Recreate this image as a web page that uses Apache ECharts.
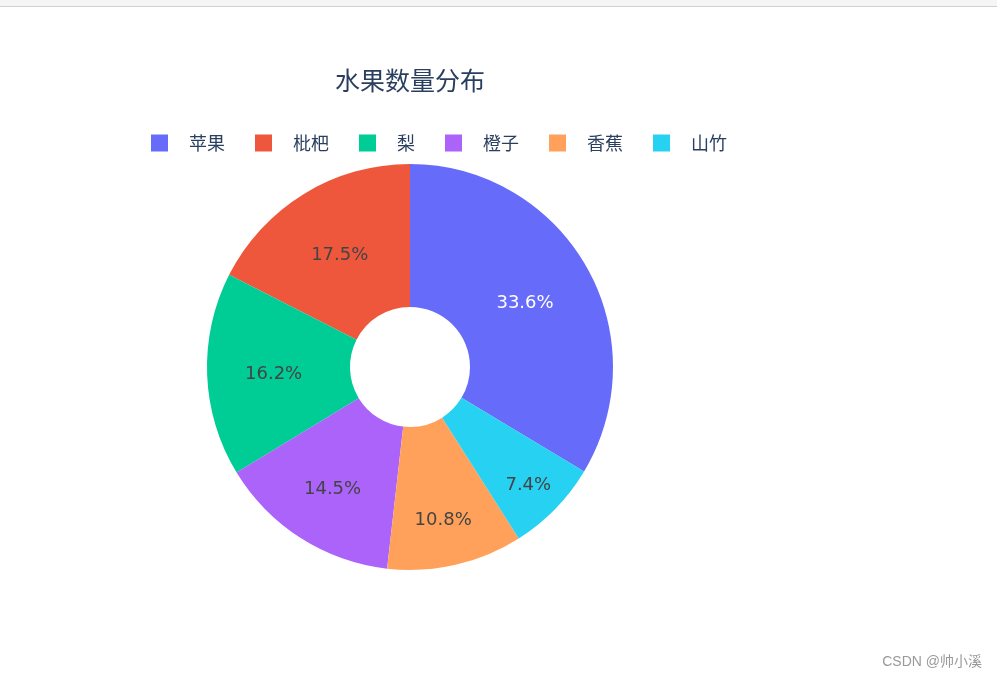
<!DOCTYPE html>
<html>
<head>
<meta charset="utf-8">
<title>水果数量分布</title>
<script src="https://cdn.jsdelivr.net/npm/echarts@6/dist/echarts.min.js"></script>
<style>
  html, body { margin: 0; padding: 0; background: #fff; }
  #main { width: 997px; height: 681px; }
</style>
</head>
<body>
<div id="main"></div>
<script>
// 数据
var fruits = ['苹果', '枇杷', '梨', '橙子', '香蕉', '山竹'];
var shares = [33.6, 17.5, 16.2, 14.5, 10.8, 7.4];

// plotly 默认配色
var colors = ['#666cf9', '#EF573D', '#00cc96', '#ab63fa', '#FFA15A', '#27d1f2'];
// 深色扇区用白字
var labelColors = ['#fff', '#444', '#444', '#444', '#444', '#444'];
// 小扇区标签往外挪一点 [dx, dy]
var labelShift = [[-2, 3], [0, 3], [-2, 2], [-5, 9], [3, 22], [22, 24]];

var total = 0;
for (var i = 0; i < shares.length; i++) total += shares[i];
// 第一块从12点方向顺时针铺开, 其余逆时针
var startAngle = 90 - shares[0] / total * 360;

var myChart = echarts.init(document.getElementById('main'));

var option = {
    backgroundColor: '#fff',
    color: colors,
    animation: false,
    title: {
        text: '水果数量分布',
        left: 410,
        top: 68,
        padding: 0,
        textAlign: 'center',
        textStyle: {
            fontFamily: 'Noto Sans CJK SC',
            fontSize: 25,
            fontWeight: 'normal',
            color: '#2a3f5f'
        }
    },
    legend: {
        data: fruits,
        left: 151,
        top: 134,
        padding: 0,
        itemWidth: 17,
        itemHeight: 17,
        itemGap: 30,
        icon: 'rect',
        textStyle: {
            fontFamily: 'Noto Sans CJK SC',
            fontSize: 18,
            color: '#2a3f5f',
            padding: [0, 0, 0, 16]
        }
    },
    graphic: [
        { type: 'rect', shape: { x: 0, y: 0, width: 997, height: 6 }, style: { fill: '#f5f5f5' }, silent: true },
        { type: 'rect', shape: { x: 0, y: 6, width: 997, height: 1 }, style: { fill: '#d0d0d0' }, silent: true },
        {
            type: 'text', right: 15, top: 655, silent: true,
            style: { text: 'CSDN @帅小溪', fontFamily: 'Liberation Sans, Noto Sans CJK SC', fontSize: 14, fill: '#999' }
        }
    ],
    series: [
        {
            name: '数量',
            type: 'pie',
            center: [410, 367],
            radius: [60, 203],
            startAngle: startAngle,
            clockwise: false,
            avoidLabelOverlap: false,
            itemStyle: { borderWidth: 0 },
            emphasis: { disabled: true },
            label: {
                show: true,
                position: 'inside',
                fontFamily: 'DejaVu Sans',
                fontSize: 18,
                formatter: function (p) { return p.value.toFixed(1) + '%'; }
            },
            labelLayout: function (params) {
                var s = labelShift[params.dataIndex];
                return { dx: s[0], dy: s[1] };
            },
            labelLine: { show: false },
            data: function () {
                var serie = [];
                for (var i = 0; i < fruits.length; i++) {
                    serie.push({
                        name: fruits[i],
                        value: shares[i],
                        label: { color: labelColors[i] }
                    });
                }
                return serie;
            }()
        }
    ]
};

myChart.setOption(option);
</script>
</body>
</html>
